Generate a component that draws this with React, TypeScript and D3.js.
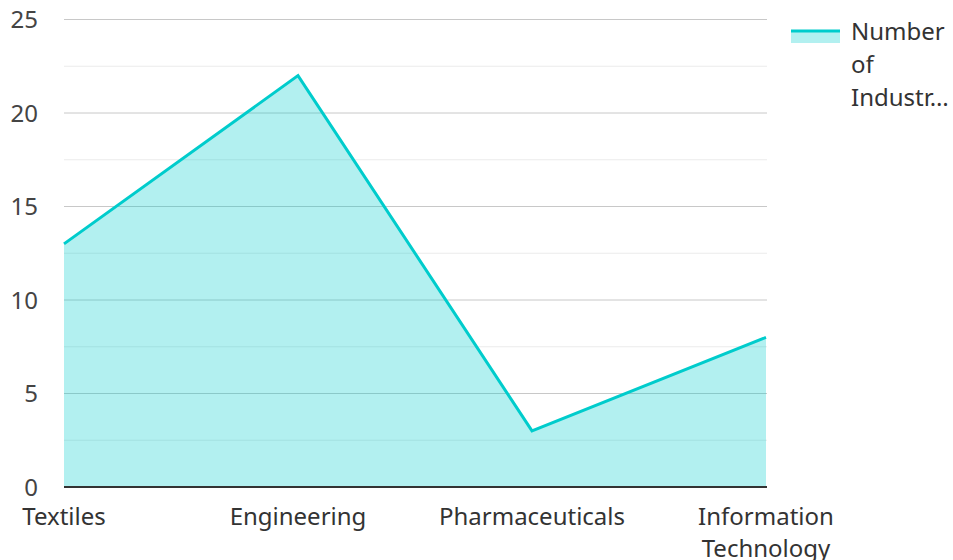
import React from "react";
import * as d3 from "d3";

const categories = ["Textiles", "Engineering", "Pharmaceuticals", "Information Technology"];
const values = [13, 22, 3, 8];
const yTicks = [0, 5, 10, 15, 20, 25];
const minorTicks = [2.5, 7.5, 12.5, 17.5, 22.5];
const seriesName = "Number of Industries";

const W = 953, H = 560;
const left = 64, right = 766, top = 19.5, bottom = 487;
const font = "'Noto Sans', sans-serif";
const fs = 24;

export default function App() {
  const x = d3.scalePoint<string>().domain(categories).range([left, right]).padding(0);
  const y = d3.scaleLinear().domain([0, 25]).range([bottom, top]);
  const data = categories.map((c, i) => ({ c, v: values[i] }));
  const area = d3.area<any>().x(d => x(d.c)!).y0(y(0)).y1(d => y(d.v));
  const line = d3.line<any>().x(d => x(d.c)!).y(d => y(d.v));
  const labelLines = (s: string) => s.split(" ");
  return (
    <svg width={W} height={H} style={{ position: "absolute", left: 0, top: 0, fontFamily: font }}>
      <rect width={W} height={H} fill="#fff" />
      {minorTicks.map(t => (
        <line key={"m" + t} x1={left} x2={right + 1} y1={y(t)} y2={y(t)} stroke="#ebebeb" strokeWidth={1} />
      ))}
      {yTicks.filter(t => t > 0).map(t => (
        <line key={"g" + t} x1={left} x2={right + 1} y1={y(t)} y2={y(t)} stroke="#c8c8c8" strokeWidth={1} />
      ))}
      <path d={area(data)!} fill="#00cccc" fillOpacity={0.3} />
      <path d={line(data)!} fill="none" stroke="#00cccc" strokeWidth={3} strokeLinejoin="miter" />
      <line x1={left} x2={right + 1} y1={bottom} y2={bottom} stroke="#333" strokeWidth={2} />
      {yTicks.map(t => (
        <text key={"t" + t} x={38} y={y(t)} dy="0.36em" textAnchor="end" fontSize={fs} fill="#444">{t}</text>
      ))}
      {categories.map(c => (
        <text key={c} x={x(c)} y={525} textAnchor="middle" fontSize={fs} fill="#333">
          {(c === "Information Technology" ? labelLines(c) : [c]).map((l, i) => (
            <tspan key={i} x={x(c)} dy={i === 0 ? 0 : 32}>{l}</tspan>
          ))}
        </text>
      ))}
      <rect x={791} y={30} width={49} height={13} fill="#00cccc" fillOpacity={0.3} />
      <line x1={791} x2={840} y1={31} y2={31} stroke="#00cccc" strokeWidth={3} />
      <text x={851} y={40} fontSize={fs} fill="#333">
        <tspan x={851} dy={0}>Number</tspan>
        <tspan x={851} dy={33}>of</tspan>
        <tspan x={851} dy={33}>Industr…</tspan>
      </text>
      <title>{seriesName}</title>
    </svg>
  );
}
